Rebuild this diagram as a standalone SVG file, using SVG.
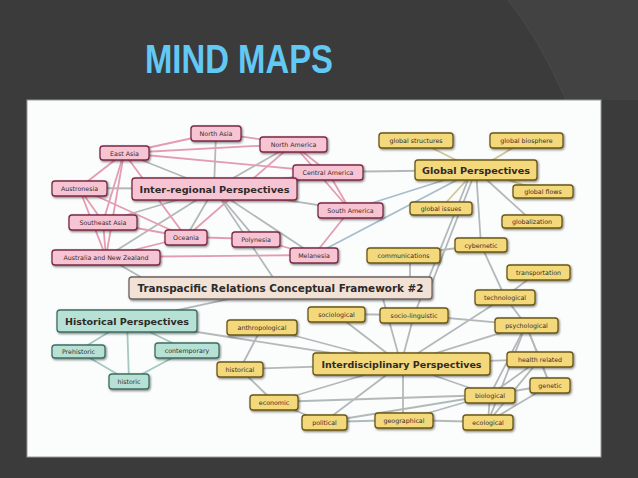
<svg xmlns="http://www.w3.org/2000/svg" width="638" height="478" viewBox="0 0 638 478">
<defs>
<filter id="sh" x="-20%" y="-40%" width="140%" height="180%">
<feDropShadow dx="1" dy="1.2" stdDeviation="1.1" flood-color="#000" flood-opacity="0.5"/>
</filter>
<style>
.pk rect{fill:#f6c4d2;stroke:#7a2845;stroke-width:1.3}
.ye rect{fill:#f3d97c;stroke:#6a5716;stroke-width:1.3}
.te rect{fill:#b7e1d5;stroke:#3c6e62;stroke-width:1.3}
.mn rect{fill:#f2e2d6;stroke:#6e6262;stroke-width:1.3}
g.n rect{filter:url(#sh)}
g.n text{font-family:"DejaVu Sans",sans-serif;font-size:6.3px;fill:#3a2a2a;text-anchor:middle;dominant-baseline:central}
g.n text.big{font-size:9.5px;font-weight:bold;fill:#2e2a2a}
#edges line{stroke-width:1.8;stroke-linecap:round}
.g{stroke:#b3b9ba}
.p{stroke:#e49cb2}
.b{stroke:#a9bccd}
.t{stroke:#a3c9c0}
.y{stroke:#cfc69a}
</style>
</defs>
<rect width="638" height="478" fill="#3b3b3b"/>
<path d="M508,0 Q540,40 566,100 L638,100 L638,0 Z" fill="#424242"/>
<path d="M508,0 Q540,40 566,100" fill="none" stroke="#4a4a4a" stroke-width="1"/>
<text x="145" y="73" font-family="Liberation Sans, Arial, sans-serif" font-size="40" font-weight="bold" fill="#62c8f4" textLength="188" lengthAdjust="spacingAndGlyphs">MIND MAPS</text>
<rect x="27" y="100" width="574" height="357" fill="#fbfcfc" stroke="#9a9a9a" stroke-width="1"/>
<g id="edges">
<line class="g" x1="214" y1="189" x2="216" y2="133"/>
<line class="g" x1="214" y1="189" x2="293" y2="144"/>
<line class="g" x1="214" y1="189" x2="124" y2="153"/>
<line class="g" x1="214" y1="189" x2="328" y2="172"/>
<line class="g" x1="214" y1="189" x2="79" y2="188"/>
<line class="g" x1="214" y1="189" x2="350" y2="210"/>
<line class="g" x1="214" y1="189" x2="103" y2="222"/>
<line class="g" x1="214" y1="189" x2="186" y2="237"/>
<line class="g" x1="214" y1="189" x2="256" y2="239"/>
<line class="g" x1="214" y1="189" x2="314" y2="255"/>
<line class="g" x1="214" y1="189" x2="106" y2="257"/>
<line class="p" x1="124" y1="153" x2="216" y2="133"/>
<line class="p" x1="124" y1="153" x2="293" y2="144"/>
<line class="p" x1="124" y1="153" x2="328" y2="172"/>
<line class="p" x1="124" y1="153" x2="103" y2="222"/>
<line class="p" x1="124" y1="153" x2="106" y2="257"/>
<line class="p" x1="124" y1="153" x2="79" y2="188"/>
<line class="p" x1="124" y1="153" x2="186" y2="237"/>
<line class="p" x1="79" y1="188" x2="103" y2="222"/>
<line class="p" x1="79" y1="188" x2="106" y2="257"/>
<line class="p" x1="79" y1="188" x2="186" y2="237"/>
<line class="p" x1="103" y1="222" x2="106" y2="257"/>
<line class="p" x1="103" y1="222" x2="186" y2="237"/>
<line class="p" x1="186" y1="237" x2="256" y2="239"/>
<line class="p" x1="186" y1="237" x2="106" y2="257"/>
<line class="p" x1="106" y1="257" x2="314" y2="255"/>
<line class="p" x1="256" y1="239" x2="314" y2="255"/>
<line class="p" x1="216" y1="133" x2="293" y2="144"/>
<line class="p" x1="293" y1="144" x2="328" y2="172"/>
<line class="p" x1="293" y1="144" x2="350" y2="210"/>
<line class="p" x1="328" y1="172" x2="350" y2="210"/>
<line class="p" x1="350" y1="210" x2="314" y2="255"/>
<line class="p" x1="293" y1="144" x2="186" y2="237"/>
<line class="g" x1="328" y1="172" x2="476" y2="170"/>
<line class="b" x1="314" y1="255" x2="476" y2="170"/>
<line class="b" x1="350" y1="210" x2="476" y2="170"/>
<line class="g" x1="280" y1="288" x2="214" y2="189"/>
<line class="g" x1="160" y1="288" x2="106" y2="257"/>
<line class="g" x1="280" y1="288" x2="127" y2="321"/>
<line class="g" x1="430" y1="288" x2="476" y2="170"/>
<line class="g" x1="380" y1="288" x2="401" y2="364"/>
<line class="y" x1="476" y1="170" x2="416" y2="140"/>
<line class="y" x1="476" y1="170" x2="526" y2="140"/>
<line class="y" x1="476" y1="170" x2="543" y2="191"/>
<line class="y" x1="476" y1="170" x2="441" y2="208"/>
<line class="g" x1="476" y1="170" x2="532" y2="221"/>
<line class="g" x1="476" y1="170" x2="481" y2="245"/>
<line class="g" x1="470" y1="175" x2="414" y2="315"/>
<line class="g" x1="403" y1="255" x2="481" y2="245"/>
<line class="g" x1="410" y1="255" x2="410" y2="288"/>
<line class="g" x1="481" y1="245" x2="505" y2="297"/>
<line class="g" x1="538" y1="272" x2="505" y2="297"/>
<line class="t" x1="127" y1="321" x2="78" y2="351"/>
<line class="t" x1="127" y1="321" x2="187" y2="350"/>
<line class="t" x1="127" y1="321" x2="129" y2="381"/>
<line class="t" x1="78" y1="351" x2="129" y2="381"/>
<line class="t" x1="187" y1="350" x2="129" y2="381"/>
<line class="g" x1="127" y1="321" x2="401" y2="364"/>
<line class="g" x1="401" y1="364" x2="336" y2="314"/>
<line class="g" x1="401" y1="364" x2="414" y2="315"/>
<line class="g" x1="401" y1="364" x2="262" y2="327"/>
<line class="g" x1="401" y1="364" x2="526" y2="325"/>
<line class="g" x1="401" y1="364" x2="540" y2="359"/>
<line class="g" x1="401" y1="364" x2="490" y2="395"/>
<line class="g" x1="401" y1="364" x2="240" y2="369"/>
<line class="g" x1="401" y1="364" x2="274" y2="402"/>
<line class="g" x1="401" y1="364" x2="324" y2="422"/>
<line class="g" x1="403" y1="364" x2="403" y2="420"/>
<line class="g" x1="401" y1="364" x2="505" y2="297"/>
<line class="g" x1="240" y1="369" x2="274" y2="402"/>
<line class="g" x1="240" y1="369" x2="262" y2="327"/>
<line class="g" x1="274" y1="402" x2="324" y2="422"/>
<line class="g" x1="274" y1="402" x2="490" y2="395"/>
<line class="g" x1="324" y1="422" x2="404" y2="420"/>
<line class="g" x1="324" y1="422" x2="490" y2="395"/>
<line class="g" x1="404" y1="420" x2="488" y2="422"/>
<line class="g" x1="404" y1="420" x2="490" y2="395"/>
<line class="g" x1="490" y1="395" x2="488" y2="422"/>
<line class="g" x1="490" y1="395" x2="550" y2="385"/>
<line class="g" x1="490" y1="395" x2="540" y2="359"/>
<line class="g" x1="490" y1="395" x2="526" y2="325"/>
<line class="g" x1="550" y1="385" x2="540" y2="359"/>
<line class="g" x1="550" y1="385" x2="526" y2="325"/>
<line class="g" x1="550" y1="385" x2="488" y2="422"/>
<line class="g" x1="526" y1="325" x2="540" y2="359"/>
<line class="g" x1="526" y1="325" x2="488" y2="422"/>
<line class="g" x1="540" y1="359" x2="488" y2="422"/>
<line class="g" x1="505" y1="297" x2="526" y2="325"/>
<line class="g" x1="414" y1="315" x2="526" y2="325"/>
<line class="g" x1="336" y1="314" x2="414" y2="315"/>
</g>
<g id="north-asia" class="n pk"><rect x="191" y="126" width="50" height="15" rx="3"/><text x="216" y="133.5">North Asia</text></g>
<g id="north-america" class="n pk"><rect x="260" y="137" width="67" height="15" rx="3"/><text x="293.5" y="144.5">North America</text></g>
<g id="east-asia" class="n pk"><rect x="100" y="146" width="49" height="14" rx="3"/><text x="124.5" y="153">East Asia</text></g>
<g id="central-america" class="n pk"><rect x="293" y="165" width="70" height="15" rx="3"/><text x="328" y="172.5">Central America</text></g>
<g id="inter-regional" class="n pk"><rect x="132" y="178" width="165" height="22" rx="3"/><text class="big" x="214.5" y="189" textLength="150" lengthAdjust="spacingAndGlyphs">Inter-regional Perspectives</text></g>
<g id="austronesia" class="n pk"><rect x="52" y="181" width="55" height="15" rx="3"/><text x="79.5" y="188.5">Austronesia</text></g>
<g id="south-america" class="n pk"><rect x="318" y="203" width="65" height="15" rx="3"/><text x="350.5" y="210.5">South America</text></g>
<g id="southeast-asia" class="n pk"><rect x="69" y="215" width="68" height="15" rx="3"/><text x="103" y="222.5">Southeast Asia</text></g>
<g id="oceania" class="n pk"><rect x="165" y="230" width="42" height="15" rx="3"/><text x="186" y="237.5">Oceania</text></g>
<g id="polynesia" class="n pk"><rect x="232" y="232" width="48" height="15" rx="3"/><text x="256" y="239.5">Polynesia</text></g>
<g id="melanesia" class="n pk"><rect x="290" y="248" width="48" height="15" rx="3"/><text x="314" y="255.5">Melanesia</text></g>
<g id="australia-nz" class="n pk"><rect x="52" y="250" width="108" height="15" rx="3"/><text x="106" y="257.5">Australia and New Zealand</text></g>
<g id="framework" class="n mn"><rect x="129" y="277" width="303" height="22" rx="3"/><text class="big" x="280.5" y="288" font-size="10.5" style="font-size:10.5px" textLength="286" lengthAdjust="spacingAndGlyphs">Transpacific Relations Conceptual Framework #2</text></g>
<g id="historical-perspectives" class="n te"><rect x="57" y="310" width="140" height="22" rx="3"/><text class="big" x="127" y="321" textLength="124" lengthAdjust="spacingAndGlyphs">Historical Perspectives</text></g>
<g id="prehistoric" class="n te"><rect x="52" y="345" width="53" height="13" rx="3"/><text x="78.5" y="351.5">Prehistoric</text></g>
<g id="contemporary" class="n te"><rect x="155" y="343" width="64" height="15" rx="3"/><text x="187" y="350.5">contemporary</text></g>
<g id="historic" class="n te"><rect x="109" y="374" width="40" height="15" rx="3"/><text x="129" y="381.5">historic</text></g>
<g id="global-structures" class="n ye"><rect x="379" y="133" width="74" height="15" rx="3"/><text x="416" y="140.5">global structures</text></g>
<g id="global-biosphere" class="n ye"><rect x="490" y="133" width="73" height="15" rx="3"/><text x="526.5" y="140.5">global biosphere</text></g>
<g id="global-perspectives" class="n ye"><rect x="415" y="160" width="122" height="20" rx="3"/><text class="big" x="476" y="170" textLength="108" lengthAdjust="spacingAndGlyphs">Global Perspectives</text></g>
<g id="global-flows" class="n ye"><rect x="513" y="185" width="60" height="13" rx="3"/><text x="543" y="191.5">global flows</text></g>
<g id="global-issues" class="n ye"><rect x="410" y="202" width="62" height="13" rx="3"/><text x="441" y="208.5">global issues</text></g>
<g id="globalization" class="n ye"><rect x="502" y="215" width="60" height="13" rx="3"/><text x="532" y="221.5">globalization</text></g>
<g id="cybernetic" class="n ye"><rect x="455" y="238" width="52" height="14" rx="3"/><text x="481" y="245">cybernetic</text></g>
<g id="communications" class="n ye"><rect x="367" y="248" width="73" height="15" rx="3"/><text x="403.5" y="255.5">communications</text></g>
<g id="transportation" class="n ye"><rect x="507" y="265" width="63" height="15" rx="3"/><text x="538.5" y="272.5">transportation</text></g>
<g id="technological" class="n ye"><rect x="475" y="290" width="60" height="15" rx="3"/><text x="505" y="297.5">technological</text></g>
<g id="sociological" class="n ye"><rect x="308" y="307" width="57" height="15" rx="3"/><text x="336.5" y="314.5">sociological</text></g>
<g id="socio-linguistic" class="n ye"><rect x="380" y="308" width="68" height="15" rx="3"/><text x="414" y="315.5">socio-linguistic</text></g>
<g id="psychological" class="n ye"><rect x="495" y="318" width="63" height="15" rx="3"/><text x="526.5" y="325.5">psychological</text></g>
<g id="anthropological" class="n ye"><rect x="227" y="320" width="70" height="15" rx="3"/><text x="262" y="327.5">anthropological</text></g>
<g id="interdisciplinary" class="n ye"><rect x="313" y="353" width="177" height="22" rx="3"/><text class="big" x="401.5" y="364" textLength="160" lengthAdjust="spacingAndGlyphs">Interdisciplinary Perspectives</text></g>
<g id="health-related" class="n ye"><rect x="507" y="352" width="66" height="15" rx="3"/><text x="540" y="359.5">health related</text></g>
<g id="historical" class="n ye"><rect x="217" y="362" width="46" height="15" rx="3"/><text x="240" y="369.5">historical</text></g>
<g id="genetic" class="n ye"><rect x="530" y="378" width="40" height="15" rx="3"/><text x="550" y="385.5">genetic</text></g>
<g id="biological" class="n ye"><rect x="465" y="388" width="50" height="15" rx="3"/><text x="490" y="395.5">biological</text></g>
<g id="economic" class="n ye"><rect x="250" y="395" width="48" height="15" rx="3"/><text x="274" y="402.5">economic</text></g>
<g id="political" class="n ye"><rect x="302" y="415" width="45" height="15" rx="3"/><text x="324.5" y="422.5">political</text></g>
<g id="geographical" class="n ye"><rect x="375" y="413" width="58" height="15" rx="3"/><text x="404" y="420.5">geographical</text></g>
<g id="ecological" class="n ye"><rect x="463" y="415" width="50" height="15" rx="3"/><text x="488" y="422.5">ecological</text></g>
</svg>
